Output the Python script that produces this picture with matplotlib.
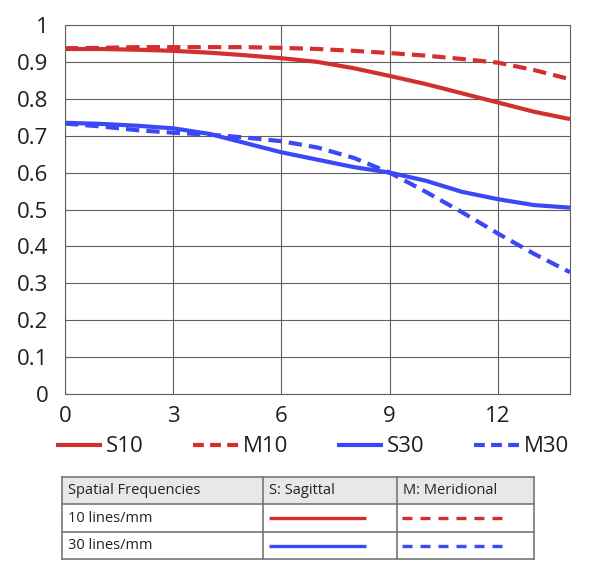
import matplotlib
matplotlib.use("Agg")
import matplotlib.pyplot as plt
from matplotlib.patches import Rectangle
from matplotlib.lines import Line2D

plt.rcParams['font.family'] = ['Open Sans', 'DejaVu Sans']

# MTF data (image height in mm vs contrast)
x = [0, 1, 2, 3, 4, 5, 6, 7, 8, 9, 10, 11, 12, 13, 14]
s10 = [0.935, 0.935, 0.933, 0.93, 0.925, 0.918, 0.91, 0.90, 0.883, 0.862, 0.84, 0.815, 0.79, 0.765, 0.745]
m10 = [0.937, 0.938, 0.94, 0.94, 0.94, 0.94, 0.938, 0.935, 0.93, 0.924, 0.917, 0.908, 0.898, 0.878, 0.853]
s30 = [0.735, 0.732, 0.727, 0.72, 0.705, 0.68, 0.655, 0.635, 0.615, 0.60, 0.578, 0.548, 0.528, 0.512, 0.505]
m30 = [0.733, 0.725, 0.715, 0.708, 0.703, 0.695, 0.685, 0.668, 0.64, 0.60, 0.548, 0.493, 0.435, 0.38, 0.33]

xticks = [0, 3, 6, 9, 12]
yticks = [0, 0.1, 0.2, 0.3, 0.4, 0.5, 0.6, 0.7, 0.8, 0.9, 1]
ytick_labels = ["0", "0.1", "0.2", "0.3", "0.4", "0.5", "0.6", "0.7", "0.8", "0.9", "1"]

series_labels = ["S10", "M10", "S30", "M30"]
table_header = ["Spatial Frequencies", "S: Sagittal", "M: Meridional"]
table_rows = ["10 lines/mm", "30 lines/mm"]

RED = "#d42f2f"
BLUE = "#3a48f5"
GRID = "#606060"
DASH = (3.2, 1.7)

fig = plt.figure(figsize=(6, 5.78), dpi=100)
ax = fig.add_axes([65 / 600, 1 - 394 / 578, 505 / 600, 369 / 578])

ax.plot(x, s10, color=RED, lw=3, solid_capstyle="butt")
ax.plot(x, m10, color=RED, lw=3, dashes=DASH)
ax.plot(x, s30, color=BLUE, lw=3, solid_capstyle="butt")
ax.plot(x, m30, color=BLUE, lw=3, dashes=DASH)

ax.set_xlim(0, 14)
ax.set_ylim(0, 1)
ax.set_xticks(xticks)
ax.set_xticklabels([str(t) for t in xticks])
ax.set_yticks(yticks)
ax.set_yticklabels(ytick_labels)
ax.tick_params(length=0, labelsize=16, colors="#1e1e1e")
ax.tick_params(axis="y", pad=12)
ax.tick_params(axis="x", pad=9)
for lab in ax.get_xticklabels() + ax.get_yticklabels():
    lab.set_fontweight("medium")
ax.grid(True, color=GRID, lw=0.8)
ax.set_axisbelow(True)
for sp in ax.spines.values():
    sp.set_color(GRID)
    sp.set_linewidth(0.8)

# legend proxies so the dashed samples show three whole dashes
LEG_DASH = (2.6, 1.5)
handles = [
    Line2D([], [], color=RED, lw=3, solid_capstyle="butt"),
    Line2D([], [], color=RED, lw=3, dashes=LEG_DASH),
    Line2D([], [], color=BLUE, lw=3, solid_capstyle="butt"),
    Line2D([], [], color=BLUE, lw=3, dashes=LEG_DASH),
]
leg = fig.legend(handles=handles, labels=series_labels, loc="center", ncol=4,
                 bbox_to_anchor=(0.521, 1 - 447 / 578), frameon=False,
                 fontsize=16, handlelength=2.05, handletextpad=0.2,
                 columnspacing=2.2)
for t in leg.get_texts():
    t.set_color("#1e1e1e")
    t.set_fontweight("medium")

# explanation table
tax = fig.add_axes([62 / 600, 1 - 559 / 578, 472 / 600, 82 / 578])
tax.set_xlim(0, 472)
tax.set_ylim(82, 0)
tax.axis("off")
col_x = [0, 201, 335, 472]
row_y = [0, 27, 55, 82]
tax.add_patch(Rectangle((0, 0), 472, 27, facecolor="#e8e8e8", edgecolor="none"))
for cx in col_x:
    tax.plot([cx, cx], [0, 82], color="#777777", lw=1.2, clip_on=False)
for ry in row_y:
    tax.plot([0, 472], [ry, ry], color="#777777", lw=1.2, clip_on=False)
for i, h in enumerate(table_header):
    tax.text(col_x[i] + 6, 13.5, h, va="center", ha="left", fontsize=10.5, color="#222222")
for j, r in enumerate(table_rows):
    yc = (row_y[j + 1] + row_y[j + 2]) / 2
    tax.text(6, yc, r, va="center", ha="left", fontsize=10.5, color="#222222")
    c = RED if j == 0 else BLUE
    tax.plot([col_x[1] + 6, col_x[1] + 103], [yc, yc], color=c, lw=2.4, solid_capstyle="butt")
    tax.plot([col_x[2] + 5, col_x[2] + 105], [yc, yc], color=c, lw=2.4, dashes=(3.0, 2.4))

fig.savefig("out.png", dpi=100)
